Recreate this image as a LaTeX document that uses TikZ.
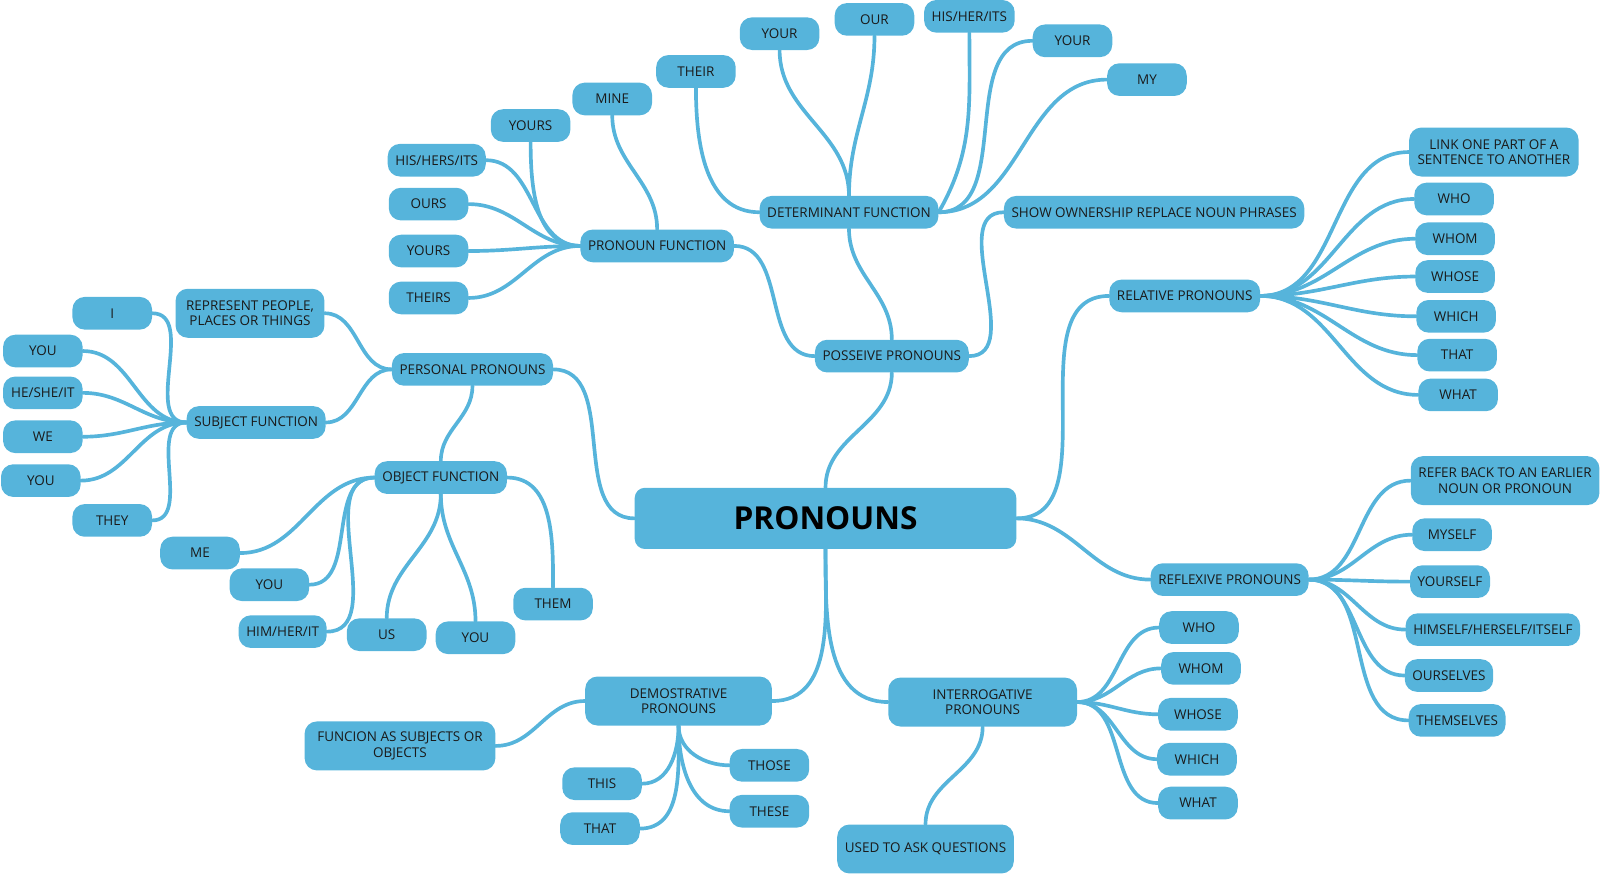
\documentclass[tikz,border=0pt]{standalone}
\usepackage{fontspec}
\setmainfont{Open Sans}
\usepackage{tikz}
\usetikzlibrary{backgrounds}

\definecolor{mmblue}{HTML}{56B4DB}
\definecolor{mmtext}{HTML}{1A1A1A}

\tikzset{
  topic/.style={fill=mmblue, text=mmtext, rounded corners=12pt, minimum height=32pt,
    minimum width=78pt, inner xsep=7.5pt, align=center, font=\fontsize{13.2}{15.2}\selectfont},
  twoline/.style={topic, minimum height=48pt},
  mainbox/.style={fill=mmblue, text=black, rounded corners=10pt, minimum width=374pt,
    minimum height=60pt, font=\fontsize{31}{35}\selectfont\bfseries},
  link/.style={draw=mmblue, line width=3.6pt, line cap=round}
}

\begin{document}
\begin{tikzpicture}[x=1pt, y=-1pt]
    \useasboundingbox (0,0) rectangle (1568,857);
    \node[mainbox] (pron) at (809,508) {PRONOUNS};

    % possessive
    \node[topic] (poss) at (874,349) {POSSEIVE PRONOUNS};
    \node[topic] (detf) at (832,208) {DETERMINANT FUNCTION};
    \node[topic] (owner) at (1131,208) {SHOW OWNERSHIP REPLACE NOUN PHRASES};
    \node[topic] (pronf) at (644,241) {PRONOUN FUNCTION};
    \node[topic] (dYour) at (764,33) {YOUR};
    \node[topic] (dOur) at (857,19) {OUR};
    \node[topic] (dHis) at (950,16) {HIS/HER/ITS};
    \node[topic] (dYourB) at (1051,40) {YOUR};
    \node[topic] (dMy) at (1124,78) {MY};
    \node[topic] (dTheir) at (682,70) {THEIR};
    \node[topic] (pMine) at (600,97) {MINE};
    \node[topic] (pYours) at (520,123) {YOURS};
    \node[topic] (pHis) at (428,157) {HIS/HERS/ITS};
    \node[topic] (pOurs) at (420,200) {OURS};
    \node[topic] (pYoursB) at (420,246) {YOURS};
    \node[topic] (pTheirs) at (420,292) {THEIRS};

    % personal
    \node[topic] (pers) at (463,362) {PERSONAL PRONOUNS};
    \node[twoline, minimum width=146pt] (repr) at (245,307) {REPRESENT PEOPLE,\\PLACES OR THINGS};
    \node[topic] (subj) at (251,414) {SUBJECT FUNCTION};
    \node[topic] (sI) at (110,307) {I};
    \node[topic] (sYou) at (42,344) {YOU};
    \node[topic] (sHe) at (42,385) {HE/SHE/IT};
    \node[topic] (sWe) at (42,428) {WE};
    \node[topic] (sYouB) at (40,471) {YOU};
    \node[topic] (sThey) at (110,510) {THEY};
    \node[topic] (obj) at (432,468) {OBJECT FUNCTION};
    \node[topic] (oMe) at (196,542) {ME};
    \node[topic] (oYou) at (264,573) {YOU};
    \node[topic] (oHim) at (277,619) {HIM/HER/IT};
    \node[topic] (oUs) at (379,622) {US};
    \node[topic] (oYouB) at (466,625) {YOU};
    \node[topic] (oThem) at (542,592) {THEM};

    % relative
    \node[topic] (rel) at (1161,290) {RELATIVE PRONOUNS};
    \node[twoline, minimum width=166pt] (rLink) at (1464,149) {LINK ONE PART OF A\\SENTENCE TO ANOTHER};
    \node[topic] (rWho) at (1425,195) {WHO};
    \node[topic] (rWhom) at (1426,234) {WHOM};
    \node[topic] (rWhose) at (1426,271) {WHOSE};
    \node[topic] (rWhich) at (1427,310) {WHICH};
    \node[topic] (rThat) at (1428,348) {THAT};
    \node[topic] (rWhat) at (1429,387) {WHAT};

    % reflexive
    \node[topic] (refl) at (1205,568) {REFLEXIVE PRONOUNS};
    \node[twoline, minimum width=184pt] (fRefer) at (1475,471) {REFER BACK TO AN EARLIER\\NOUN OR PRONOUN};
    \node[topic] (fMy) at (1423,524) {MYSELF};
    \node[topic] (fYour) at (1421,570) {YOURSELF};
    \node[topic] (fHim) at (1463,617) {HIMSELF/HERSELF/ITSELF};
    \node[topic] (fOur) at (1420,662) {OURSELVES};
    \node[topic] (fThem) at (1428,706) {THEMSELVES};

    % interrogative
    \node[twoline, minimum width=185pt] (intr) at (963,688) {INTERROGATIVE\\PRONOUNS};
    \node[twoline, minimum width=171pt] (iUsed) at (907,832) {USED TO ASK QUESTIONS};
    \node[topic] (iWho) at (1175,615) {WHO};
    \node[topic] (iWhom) at (1177,655) {WHOM};
    \node[topic] (iWhose) at (1174,700) {WHOSE};
    \node[topic] (iWhich) at (1173,744) {WHICH};
    \node[topic] (iWhat) at (1174,787) {WHAT};

    % demonstrative
    \node[twoline, minimum width=183pt] (demo) at (665,687) {DEMOSTRATIVE\\PRONOUNS};
    \node[twoline, minimum width=187pt] (mFunc) at (392,731) {FUNCION AS SUBJECTS OR\\OBJECTS};
    \node[topic] (mThose) at (754,750) {THOSE};
    \node[topic] (mThese) at (754,795) {THESE};
    \node[topic] (mThis) at (590,768) {THIS};
    \node[topic] (mThat) at (588,812) {THAT};

    \begin{scope}[on background layer]
        \draw[link] (pron.north) to[out=90,in=-90] (poss.south);
        \draw[link] (pron.west) to[out=180,in=0] (pers.east);
        \draw[link] (pron.east) to[out=0,in=180] (rel.west);
        \draw[link] (pron.east) to[out=0,in=180] (refl.west);
        \draw[link] (pron.south) to[out=-90,in=180] (intr.west);
        \draw[link] (pron.south) to[out=-90,in=0] (demo.east);

        \draw[link] (poss.north) to[out=90,in=-90] (detf.south);
        \draw[link] (poss.west) to[out=180,in=0] (pronf.east);
        \draw[link] (poss.east) to[out=0,in=180] (owner.west);
        \foreach \k in {dYour,dOur} \draw[link] (detf.north) to[out=90,in=-90] (\k.south);
        \draw[link] (detf.east) to[out=60,in=-90] (dHis.south);
        \foreach \k in {dYourB,dMy} \draw[link] (detf.east) to[out=0,in=180] (\k.west);
        \draw[link] (detf.west) to[out=180,in=-90] (dTheir.south);
        \draw[link] (pronf.north) to[out=90,in=-90] (pMine.south);
        \draw[link] (pronf.west) to[out=180,in=-90] (pYours.south);
        \foreach \k in {pHis,pOurs,pYoursB,pTheirs} \draw[link] (pronf.west) to[out=180,in=0] (\k.east);

        \foreach \k in {repr,subj} \draw[link] (pers.west) to[out=180,in=0] (\k.east);
        \draw[link] (pers.south) to[out=-90,in=90] (obj.north);
        \foreach \k in {sI,sYou,sHe,sWe,sYouB,sThey} \draw[link] (subj.west) to[out=180,in=0] (\k.east);
        \foreach \k in {oMe,oYou,oHim} \draw[link] (obj.west) to[out=180,in=0] (\k.east);
        \foreach \k in {oUs,oYouB} \draw[link] (obj.south) to[out=-90,in=90] (\k.north);
        \draw[link] (obj.east) to[out=0,in=90] (oThem.north);

        \foreach \k in {rLink,rWho,rWhom,rWhose,rWhich,rThat,rWhat} \draw[link] (rel.east) to[out=0,in=180] (\k.west);
        \foreach \k in {fRefer,fMy,fYour,fHim,fOur,fThem} \draw[link] (refl.east) to[out=0,in=180] (\k.west);

        \foreach \k in {iWho,iWhom,iWhose,iWhich,iWhat} \draw[link] (intr.east) to[out=0,in=180] (\k.west);
        \draw[link] (intr.south) to[out=-90,in=90] (iUsed.north);

        \draw[link] (demo.west) to[out=180,in=0] (mFunc.east);
        \foreach \k in {mThose,mThese} \draw[link] (demo.south) to[out=-90,in=180] (\k.west);
        \foreach \k in {mThis,mThat} \draw[link] (demo.south) to[out=-90,in=0] (\k.east);
    \end{scope}
\end{tikzpicture}
\end{document}
